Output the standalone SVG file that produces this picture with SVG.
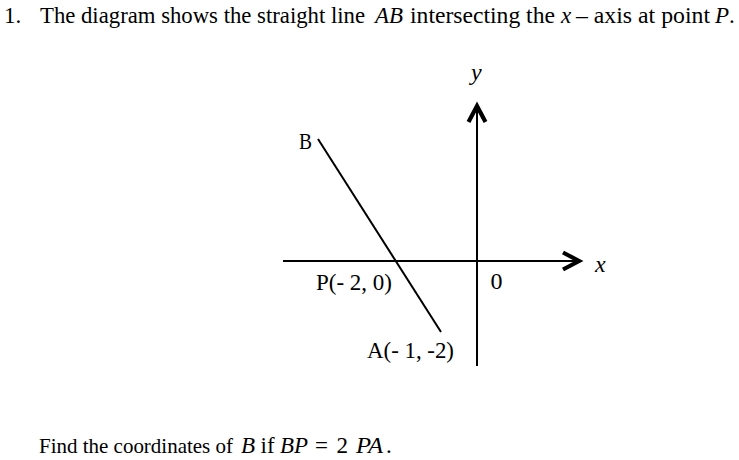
<svg xmlns="http://www.w3.org/2000/svg" width="739" height="460" viewBox="0 0 739 460">
<style>
.t{font-family:"Liberation Serif","Times New Roman",serif;font-size:23px;fill:#000}
.b{font-family:"Liberation Serif","Times New Roman",serif;font-size:23px;fill:#000}
.lab{font-family:"Liberation Serif","Times New Roman",serif;font-size:24px;fill:#000}
.i{font-style:italic}
.ax{stroke:#000;stroke-width:2;fill:none}
</style>
<defs>
<marker id="chev" markerUnits="userSpaceOnUse" viewBox="-22 -12 26 24" markerWidth="26" markerHeight="24" refX="0" refY="0" orient="auto" overflow="visible">
<path d="M-16,-8.5 L0,0 L-16,8.5" fill="none" stroke="#000" stroke-width="4.2" stroke-linejoin="miter" stroke-miterlimit="10"/>
</marker>
</defs>
<rect width="739" height="460" fill="#fff"/>
<g id="title">
<text class="t" x="4" y="23">1.</text>
<text class="t" x="40" y="23" textLength="325" lengthAdjust="spacingAndGlyphs">The diagram shows the straight line</text>
<text class="t i" x="375" y="23" textLength="28" lengthAdjust="spacingAndGlyphs">AB</text>
<text class="t" x="410" y="23" textLength="145" lengthAdjust="spacingAndGlyphs">intersecting the</text>
<text class="t i" x="561" y="23">x</text>
<text class="t" x="576" y="23" textLength="134" lengthAdjust="spacingAndGlyphs">– axis at point</text>
<text class="t i" x="715" y="23">P</text>
<text class="t" x="729" y="23">.</text>
</g>
<g id="connectors">
<line id="x-axis" class="ax" x1="283" y1="261" x2="579" y2="261" marker-end="url(#chev)"/>
<line id="y-axis" class="ax" x1="477" y1="366" x2="477" y2="106" marker-end="url(#chev)"/>
<line id="line-AB" class="ax" x1="318" y1="139" x2="441" y2="332"/>
</g>
<g id="node-y"><text class="lab i" x="471" y="80">y</text></g>
<g id="node-x"><text class="lab i" x="595" y="272">x</text></g>
<g id="node-B"><text class="lab" x="299" y="149" textLength="13" lengthAdjust="spacingAndGlyphs">B</text></g>
<g id="node-P"><text class="lab" x="316" y="290" textLength="76" lengthAdjust="spacingAndGlyphs">P(- 2, 0)</text></g>
<g id="node-O"><text class="lab" x="490.5" y="288.5" textLength="12" lengthAdjust="spacingAndGlyphs">0</text></g>
<g id="node-A"><text class="lab" x="367" y="358" textLength="87" lengthAdjust="spacingAndGlyphs">A(- 1, -2)</text></g>
<g id="question">
<text class="b" x="39" y="453" style="font-size:21.5px" textLength="194" lengthAdjust="spacingAndGlyphs">Find the coordinates of</text>
<text class="b i" x="241" y="453">B</text>
<text class="b" x="260.5" y="453">if</text>
<text class="b i" x="280" y="453" textLength="28" lengthAdjust="spacingAndGlyphs">BP</text>
<text class="b" x="315" y="453">=</text>
<text class="b" x="336.5" y="453">2</text>
<text class="b i" x="356" y="453" textLength="27" lengthAdjust="spacingAndGlyphs">PA</text>
<text class="b" x="386" y="453">.</text>
</g>
</svg>
